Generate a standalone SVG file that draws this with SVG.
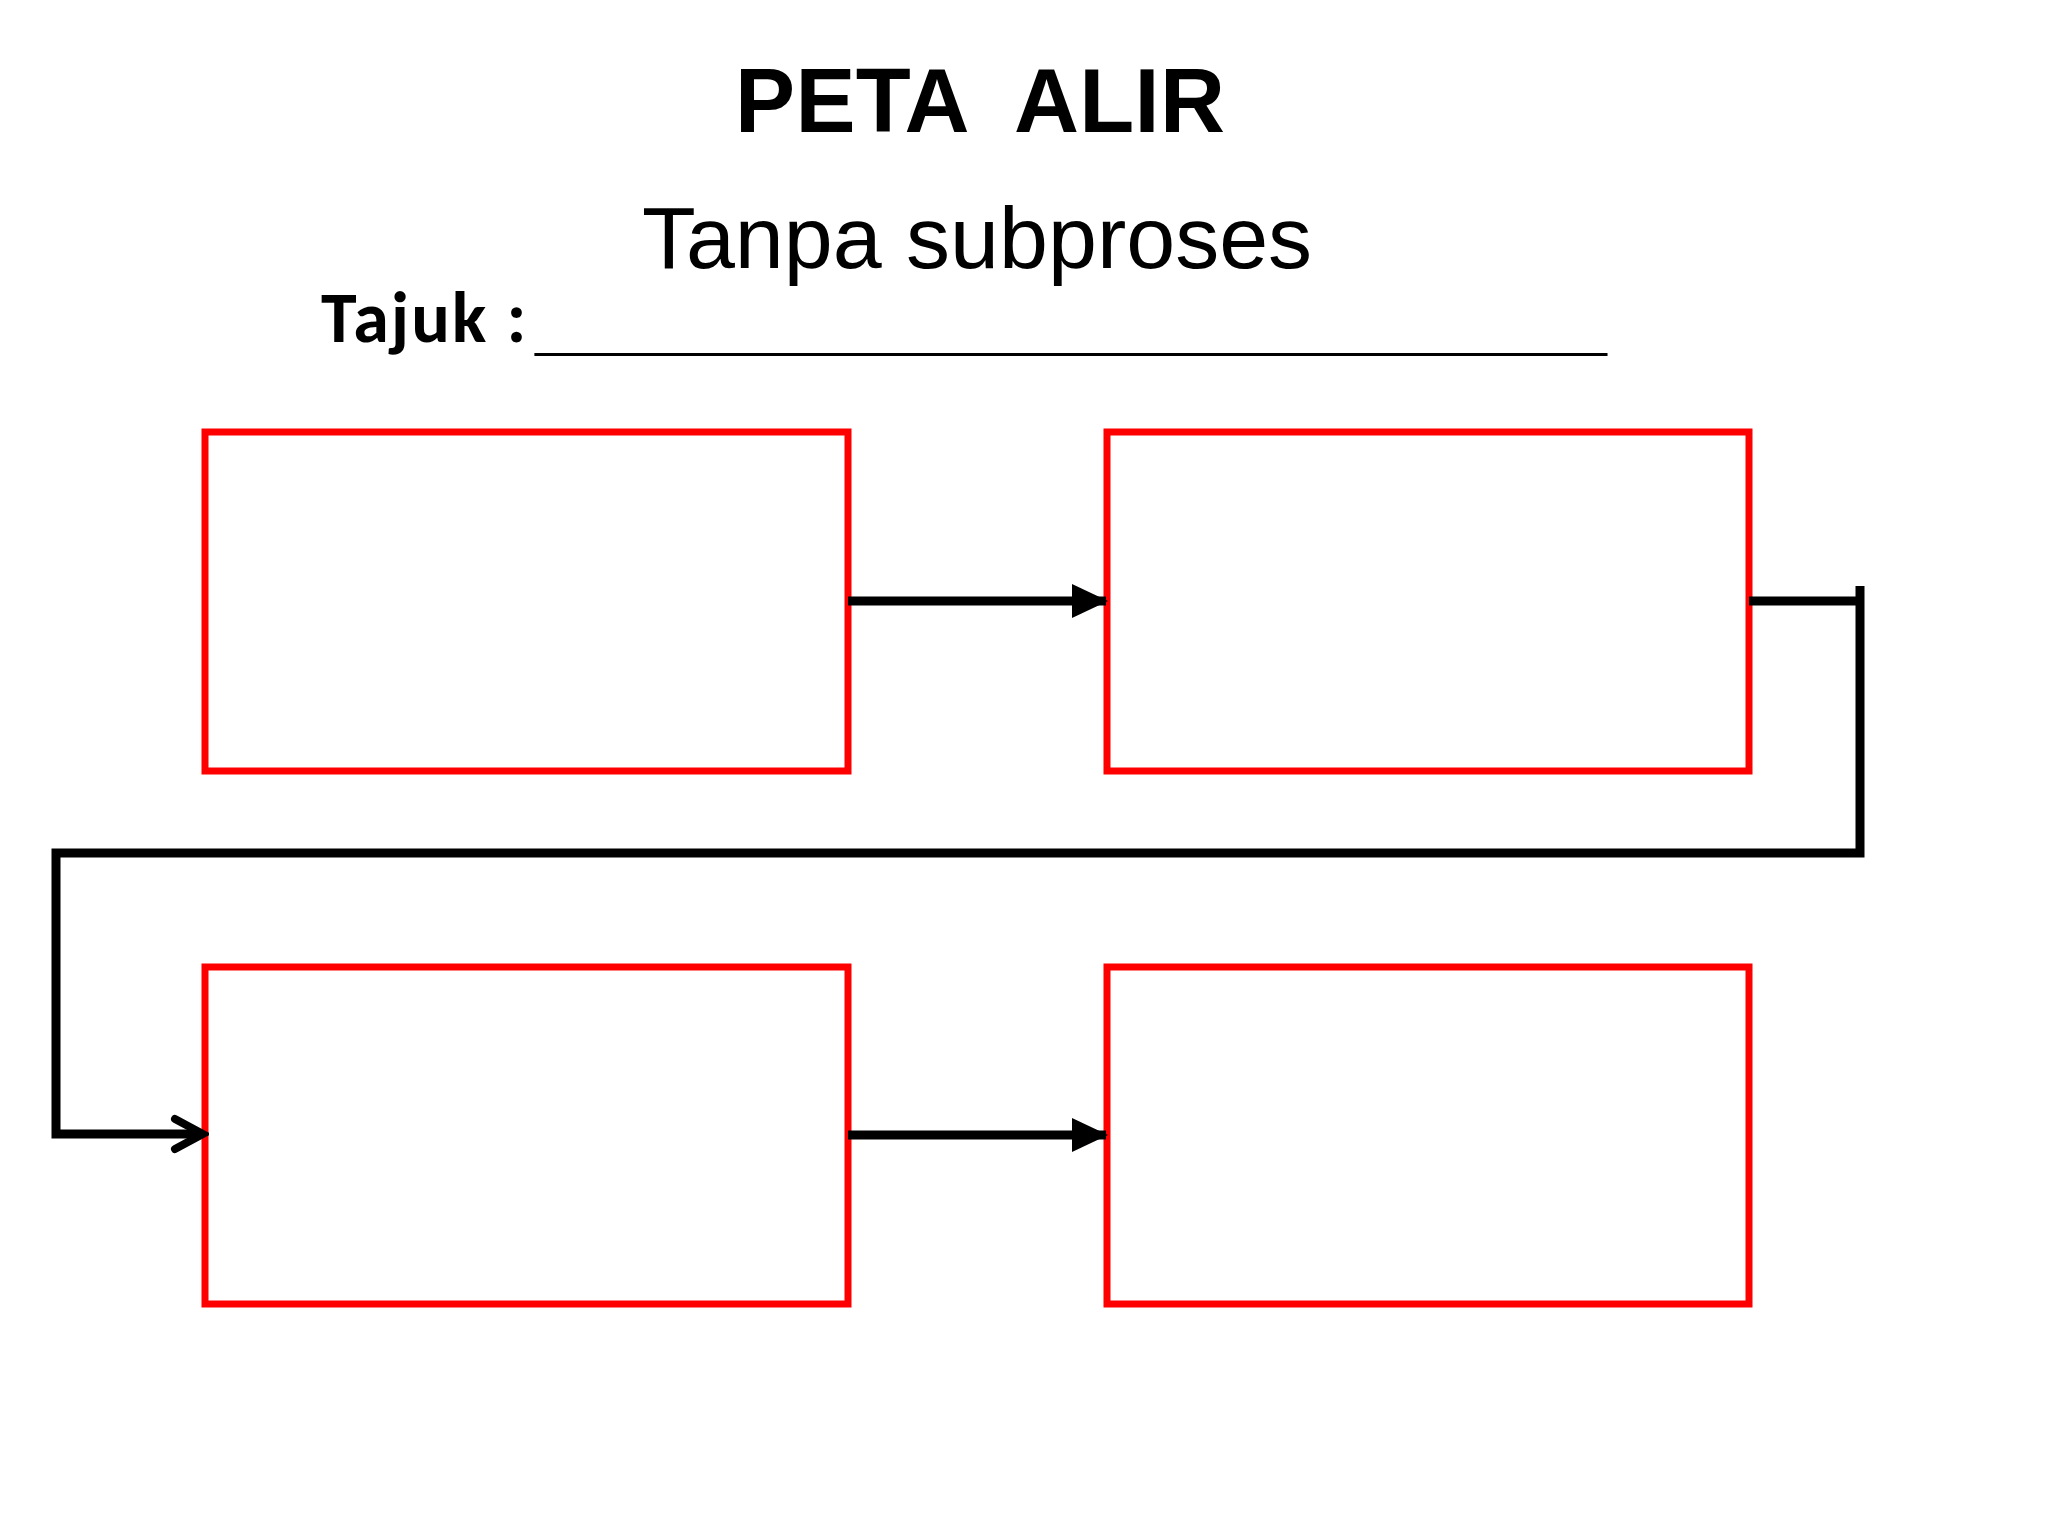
<svg xmlns="http://www.w3.org/2000/svg" width="2048" height="1536" viewBox="0 0 2048 1536">
<style>
.box{fill:#fff;stroke:#f00;stroke-width:7}
.ln{fill:none;stroke:#000;stroke-width:9}
</style>
<defs>
<marker id="tri" markerUnits="userSpaceOnUse" markerWidth="40" markerHeight="40" refX="36" refY="20" orient="auto"><path d="M2,3 L38,20 L2,37 Z" fill="#000"/></marker>
<marker id="open" markerUnits="userSpaceOnUse" markerWidth="40" markerHeight="40" refX="34" refY="20" orient="auto"><path d="M6,5 L34,20 L6,35" fill="none" stroke="#000" stroke-width="8" stroke-linecap="round"/></marker>
</defs>
<rect width="2048" height="1536" fill="#fff"/>
<g id="title"><text x="980" y="132" text-anchor="middle" xml:space="preserve" font-family="Liberation Sans, Arial, sans-serif" font-weight="bold" font-size="90" textLength="490" lengthAdjust="spacing">PETA  ALIR</text></g>
<g id="subtitle"><text x="977" y="268" text-anchor="middle" font-family="Liberation Sans, Arial, sans-serif" font-size="88">Tanpa subproses</text></g>
<g id="tajuk"><text x="321" y="342" font-family="Carlito, Liberation Sans, sans-serif" font-weight="bold" font-size="72" letter-spacing="2">Tajuk :</text>
<text x="535" y="346" font-family="Liberation Sans, sans-serif" font-weight="bold" font-size="80" textLength="1072" lengthAdjust="spacingAndGlyphs">______________________________</text></g>
<g id="box1"><rect class="box" x="205" y="432" width="643" height="339"/></g>
<g id="box2"><rect class="box" x="1107" y="432" width="642" height="339"/></g>
<g id="box3"><rect class="box" x="205" y="967" width="643" height="337"/></g>
<g id="box4"><rect class="box" x="1107" y="967" width="642" height="337"/></g>
<g id="connectors">
<line class="ln" x1="848" y1="601" x2="1106" y2="601" marker-end="url(#tri)"/>
<polyline class="ln" points="1749,601 1860,601 1860,586 1860,853 56,853 56,1134 203,1134" marker-end="url(#open)"/>
<line class="ln" x1="848" y1="1135" x2="1106" y2="1135" marker-end="url(#tri)"/>
</g>
</svg>
